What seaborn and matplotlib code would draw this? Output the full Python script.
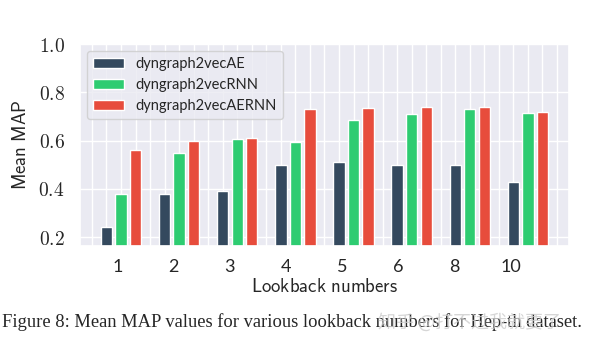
import numpy as np
import pandas as pd
import matplotlib
matplotlib.use("Agg")
import matplotlib.pyplot as plt
import seaborn as sns
from matplotlib.ticker import MultipleLocator

# values
lookback = ['1', '2', '3', '4', '5', '6', '8', '10']
ae = [0.24, 0.38, 0.39, 0.50, 0.51, 0.50, 0.50, 0.43]
rnn = [0.38, 0.55, 0.605, 0.595, 0.685, 0.71, 0.73, 0.715]
aernn = [0.56, 0.60, 0.61, 0.73, 0.735, 0.74, 0.74, 0.72]
methods = ['dyngraph2vecAE', 'dyngraph2vecRNN', 'dyngraph2vecAERNN']
colors = ['#34495e', '#2ecc71', '#e74c3c']

df = pd.DataFrame({'Lookback': lookback * 3,
                   'MAP': ae + rnn + aernn,
                   'Method': [m for m in methods for _ in lookback]})

sns.set_theme(style='darkgrid')
plt.rcParams['mathtext.fontset'] = 'cm'
plt.rcParams['font.family'] = ['DejaVu Sans']

fig = plt.figure(figsize=(6, 3.55), dpi=100)
ax = fig.add_axes([0.1333, 0.307, 0.815, 0.569])

sns.barplot(data=df, x='Lookback', y='MAP', hue='Method', order=lookback,
            hue_order=methods, palette=colors, saturation=1, width=0.75,
            gap=0.22, errorbar=None, ax=ax)

ax.set_xlim(-0.706, 7.706)
ax.set_ylim(0.163, 1.0)

# vertical grid at every bar slot, labels slightly shifted like the original
ax.xaxis.set_minor_locator(MultipleLocator(0.25))
ax.grid(which='major', axis='x', visible=False)
ax.grid(which='minor', axis='x', color='white', linewidth=1)
ticks = np.arange(len(lookback)) * 0.966 - 0.06
ax.set_xticks(ticks, labels=lookback)
yt = [0.2, 0.4, 0.6, 0.8, 1.0]
ax.set_yticks(yt, labels=[r'$%.1f$' % v for v in yt])
ax.tick_params(which='both', length=0)
ax.tick_params(axis='x', labelsize=13, pad=9)
ax.tick_params(axis='y', labelsize=14, pad=11)
for t in ax.get_xticklabels():
    t.set_family('Lato')

ax.set_xlabel(r'$\mathsf{Lookback\ numbers}$', fontsize=13.5, labelpad=2)
ax.set_ylabel(r'$\mathsf{Mean\ MAP}$', fontsize=13.5, labelpad=6)

handles, labels = ax.get_legend_handles_labels()
ax.legend(handles, labels, loc='upper left', handlelength=2.1,
          labelspacing=0.48, borderaxespad=0.5, edgecolor='0.8',
          prop={'family': 'Lato', 'size': 10.5})

fig.text(0.487, 0.092, 'Figure 8: Mean MAP values for various lookback numbers for Hep-th dataset.',
         ha='center', va='center', fontsize=13.3, family='Liberation Serif')
fig.text(0.63, 0.092, '知乎 @打不过我就要了', ha='left', va='center', fontsize=13,
         family=['Noto Sans CJK SC', 'DejaVu Sans'], color='#cccccc', alpha=0.8)

plt.savefig('out.png', dpi=100)
